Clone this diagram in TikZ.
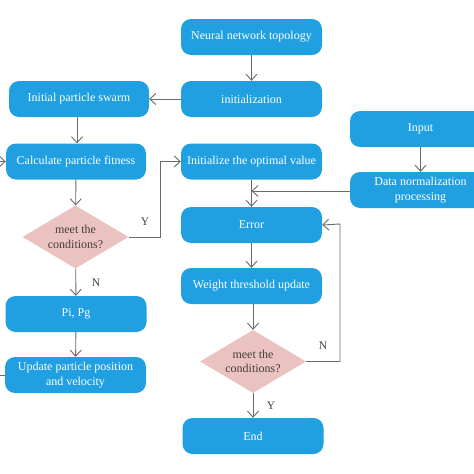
\documentclass[tikz,border=0pt]{standalone}
\usepackage{fontspec}
\setmainfont{Liberation Serif}
\usetikzlibrary{shapes.geometric,arrows.meta}
\definecolor{boxblue}{HTML}{20A0E0}
\definecolor{diapink}{HTML}{EAC3C0}
\definecolor{linegray}{HTML}{6A6A6A}
\definecolor{diatext}{HTML}{4A3A3A}
\begin{document}
\begin{tikzpicture}[x=1pt,y=-1pt,
  box/.style={draw=none,fill=boxblue,rounded corners=10pt,minimum width=141pt,minimum height=36pt,text=white,font=\fontsize{12}{14.5}\selectfont,align=center,inner sep=0pt},
  dia/.style={diamond,fill=diapink,draw=none,minimum width=106pt,minimum height=63pt,inner sep=0pt,aspect=1.68,text=diatext,font=\fontsize{12}{14.5}\selectfont,align=center},
  conn/.style={draw=linegray,line width=0.9pt,-{Straight Barb[length=6pt,width=11pt,line width=0.9pt]}},
  lbl/.style={text=diatext,font=\fontsize{11.5}{13}\selectfont}]
\clip (0,0) rectangle (474,474);
\fill[white] (0,0) rectangle (474,474);
\node[box] (nnt) at (251.5,37) {Neural network topology};
\node[box] (init) at (251.5,99) {initialization};
\node[box,minimum width=140pt] (swarm) at (79,99) {Initial particle swarm};
\node[box,minimum width=140pt] (calc) at (76,161.5) {Calculate particle fitness};
\node[box] (opt) at (251.5,161.5) {Initialize the optimal value};
\node[box] (input) at (420.5,129) {Input};
\node[box] (norm) at (420.5,190) {Data normalization\\processing};
\node[box] (err) at (251.5,225) {Error};
\node[box] (wtu) at (251.5,286) {Weight threshold update};
\node[dia] (d2) at (253,361.5) {meet the\\conditions?};
\node[box] (end) at (253,436) {End};
\node[dia] (d1) at (75.5,237) {meet the\\conditions?};
\node[box] (pipg) at (76,314) {Pi, Pg};
\node[box] (upd) at (75.5,375) {Update particle position\\and velocity};
\coordinate (j) at (251.5,191);
\draw[conn] (nnt) -- (init);
\draw[conn] (init) -- (swarm);
\draw[conn] (swarm.south -| 77,0) -- (calc.north -| 77,0);
\draw[conn] (calc) -- (d1);
\draw[conn] (d1.east) -- (160,237) -- (160,161.5) -- (opt.west);
\draw[conn] (d1) -- (pipg);
\draw[conn] (pipg) -- (upd);
\draw[conn] (upd.west) -- (-15,375) -- (-15,161.5) -- (calc.west);
\draw[conn] (opt) -- (err);
\draw[conn] (norm.west |- j) -- (j);
\draw[conn] (input) -- (norm);
\draw[conn] (err) -- (wtu);
\draw[conn] (wtu.south -| d2.north) -- (d2.north);
\draw[conn] (d2.east) -- (340,361.5) -- (340,224) -- (err.east);
\draw[conn] (d2) -- (end);
\node[lbl] (ly1) at (145,222) {Y};
\node[lbl] (ln1) at (96,283) {N};
\node[lbl] (ln2) at (323,346) {N};
\node[lbl] (ly2) at (271,406) {Y};
\end{tikzpicture}
\end{document}
